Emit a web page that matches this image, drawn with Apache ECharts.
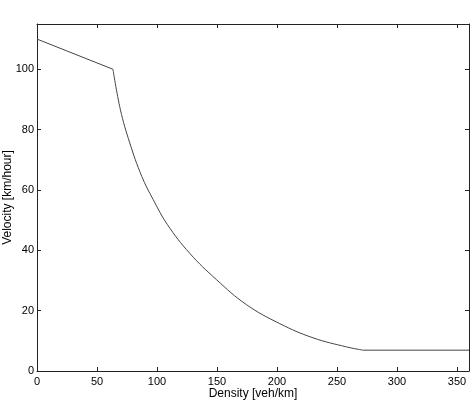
<!DOCTYPE html>
<html><head><meta charset="utf-8">
<script src="https://cdn.jsdelivr.net/npm/echarts@6/dist/echarts.min.js"></script>
<style>html,body{margin:0;padding:0;background:#fff}#c{width:474px;height:402px}</style>
</head><body><div id="c"></div>
<script>
// free-flow branch, congested branch, jam branch
const densityFree = [0, 63.3];
const velocityFree = [110, 100];
const densityCong = [63.3, 69.5, 77.3, 87.3, 96.7, 108.7, 127.3, 149.5, 174.5, 202.3, 230, 257.8, 271.7];
const velocityCong = [100, 86.6, 75.6, 64.5, 56.9, 48.5, 39.0, 30.3, 22.0, 15.7, 11.0, 8.0, 6.9];
const densityJam = [271.7, 360];
const velocityJam = [6.9, 6.9];
const xTicks = [0, 50, 100, 150, 200, 250, 300, 350];
const yTicks = [0, 20, 40, 60, 80, 100];

const chart = echarts.init(document.getElementById('c'), null, {renderer: 'canvas'});
const font = 'Liberation Sans, Arial, sans-serif';
const axisLine = {show: true, onZero: false, lineStyle: {color: '#222', width: 1}};
const tick = {show: true, inside: true, length: 4, lineStyle: {color: '#222'}};
const pair = (xs, ys) => xs.map((d, i) => [d, ys[i]]);
const seg = (data, smooth) => ({
  type: 'line', xAxisIndex: 0, yAxisIndex: 0, data,
  showSymbol: false, smooth,
  lineStyle: {color: '#444', width: 1}
});
chart.setOption({
  animation: false,
  grid: {left: 37, right: 5, top: 24, bottom: 31, containLabel: false, outerBoundsMode: 'none'},
  xAxis: [{
    type: 'value', min: 0, max: 360, interval: 50, position: 'bottom',
    axisLine, axisTick: tick, splitLine: {show: false},
    axisLabel: {color: '#000', fontSize: 11, fontFamily: font, margin: 5, showMaxLabel: false,
      formatter: v => xTicks.includes(v) ? String(v) : ''},
    name: 'Density [veh/km]', nameLocation: 'middle', nameGap: 17, nameMoveOverlap: false,
    nameTextStyle: {color: '#000', fontSize: 12, fontFamily: font}
  }, {
    type: 'value', min: 0, max: 360, interval: 50, position: 'top',
    axisLine, axisTick: tick, axisLabel: {show: false}, splitLine: {show: false}
  }],
  yAxis: [{
    type: 'value', min: 0, max: 115, interval: 20, position: 'left',
    axisLine, axisTick: tick, splitLine: {show: false},
    axisLabel: {color: '#000', fontSize: 11, fontFamily: font, margin: 3, showMaxLabel: false,
      formatter: v => yTicks.includes(v) ? String(v) : ''},
    name: 'Velocity [km/hour]', nameLocation: 'middle', nameGap: 23, nameMoveOverlap: false,
    nameTextStyle: {color: '#000', fontSize: 12, fontFamily: font}
  }, {
    type: 'value', min: 0, max: 115, interval: 20, position: 'right',
    axisLine, axisTick: tick, axisLabel: {show: false}, splitLine: {show: false}
  }],
  series: [
    seg(pair(densityFree, velocityFree), false),
    seg(pair(densityCong, velocityCong), 0.4),
    seg(pair(densityJam, velocityJam), false)
  ]
});
</script></body></html>
